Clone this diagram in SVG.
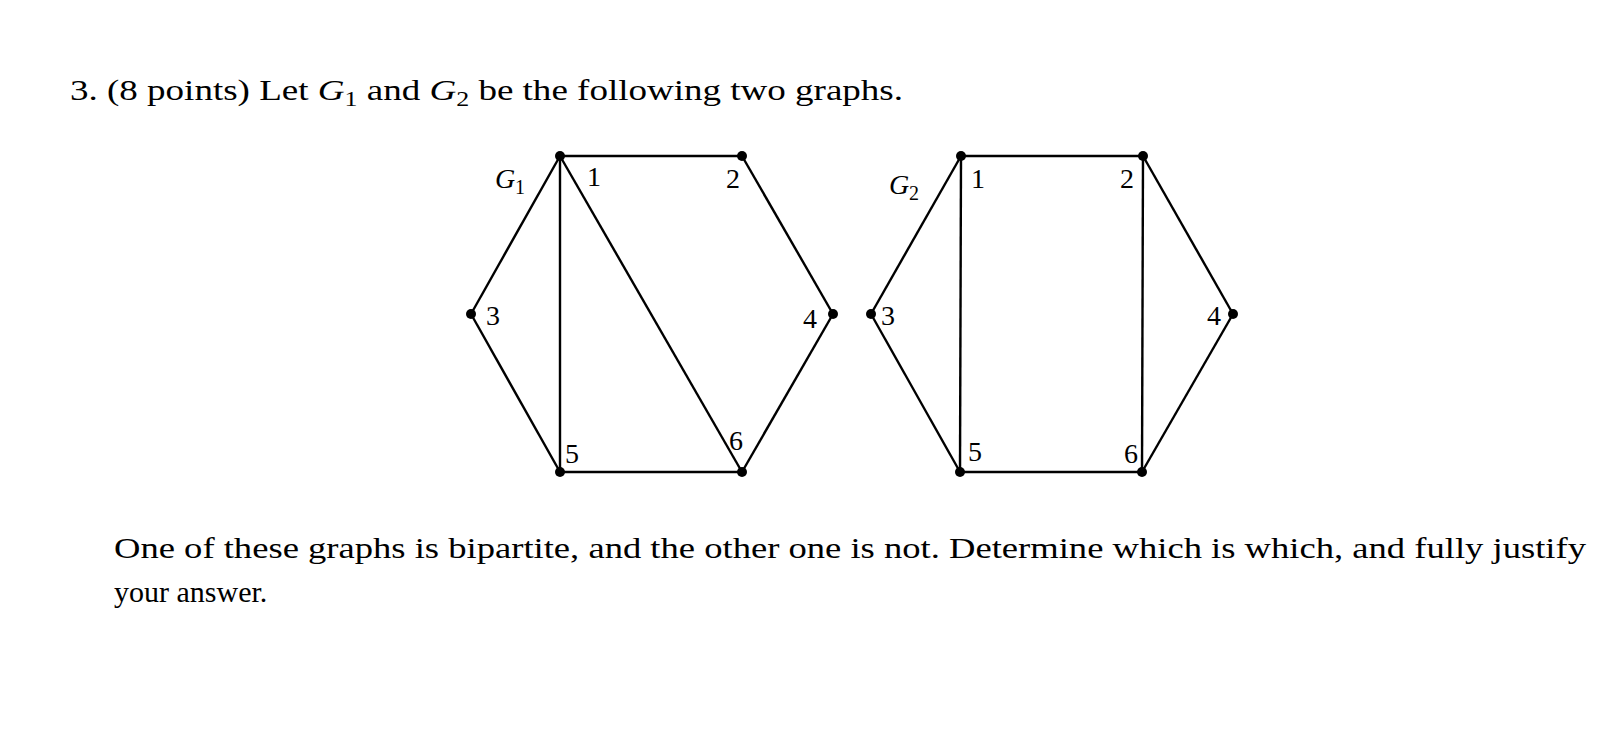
<svg xmlns="http://www.w3.org/2000/svg" width="1622" height="743" viewBox="0 0 1622 743">
<style>
text{font-family:"Liberation Serif","DejaVu Serif",serif;fill:#000}
.t{font-size:30px}
.l{font-size:28px;text-anchor:middle}
.e line{stroke:#000;stroke-width:2.4}
.n circle{fill:#000}
</style>
<rect width="1622" height="743" fill="#fff"/>
<text class="t" x="70" y="100" textLength="833" lengthAdjust="spacingAndGlyphs">3. (8 points) Let <tspan font-style="italic">G</tspan><tspan font-size="21" dy="6">1</tspan><tspan dy="-6"> and </tspan><tspan font-style="italic">G</tspan><tspan font-size="21" dy="6">2</tspan><tspan dy="-6"> be the following two graphs.</tspan></text>
<g id="connectors" class="e">
<line x1="560" y1="156" x2="742" y2="156"/><line x1="560" y1="156" x2="471" y2="314"/><line x1="560" y1="156" x2="560" y2="472"/><line x1="560" y1="156" x2="742" y2="472"/><line x1="742" y1="156" x2="833" y2="314"/><line x1="471" y1="314" x2="560" y2="472"/><line x1="560" y1="472" x2="742" y2="472"/><line x1="833" y1="314" x2="742" y2="472"/>
<line x1="961" y1="156" x2="1143" y2="156"/><line x1="961" y1="156" x2="871" y2="314"/><line x1="961" y1="156" x2="960" y2="472"/><line x1="1143" y1="156" x2="1142" y2="472"/><line x1="1143" y1="156" x2="1233" y2="314"/><line x1="871" y1="314" x2="960" y2="472"/><line x1="960" y1="472" x2="1142" y2="472"/><line x1="1233" y1="314" x2="1142" y2="472"/>
</g>
<g id="G1" class="n">
<text class="l" x="510" y="188" font-style="italic">G<tspan font-size="20" font-style="normal" dy="6">1</tspan></text>
<g id="g1n1"><circle cx="560" cy="156" r="5"/><text class="l" x="594" y="186">1</text></g>
<g id="g1n2"><circle cx="742" cy="156" r="5"/><text class="l" x="733" y="188">2</text></g>
<g id="g1n3"><circle cx="471" cy="314" r="5"/><text class="l" x="493" y="325">3</text></g>
<g id="g1n4"><circle cx="833" cy="314" r="5"/><text class="l" x="810" y="328">4</text></g>
<g id="g1n5"><circle cx="560" cy="472" r="5"/><text class="l" x="572" y="463">5</text></g>
<g id="g1n6"><circle cx="742" cy="472" r="5"/><text class="l" x="736" y="450">6</text></g>
</g>
<g id="G2" class="n">
<text class="l" x="904" y="194" font-style="italic">G<tspan font-size="20" font-style="normal" dy="6">2</tspan></text>
<g id="g2n1"><circle cx="961" cy="156" r="5"/><text class="l" x="978" y="188">1</text></g>
<g id="g2n2"><circle cx="1143" cy="156" r="5"/><text class="l" x="1127" y="188">2</text></g>
<g id="g2n3"><circle cx="871" cy="314" r="5"/><text class="l" x="888" y="325">3</text></g>
<g id="g2n4"><circle cx="1233" cy="314" r="5"/><text class="l" x="1214" y="325">4</text></g>
<g id="g2n5"><circle cx="960" cy="472" r="5"/><text class="l" x="975" y="461">5</text></g>
<g id="g2n6"><circle cx="1142" cy="472" r="5"/><text class="l" x="1131" y="463">6</text></g>
</g>
<text class="t" x="114" y="558" textLength="1472" lengthAdjust="spacingAndGlyphs">One of these graphs is bipartite, and the other one is not. Determine which is which, and fully justify</text>
<text class="t" x="114" y="602">your answer.</text>
</svg>
